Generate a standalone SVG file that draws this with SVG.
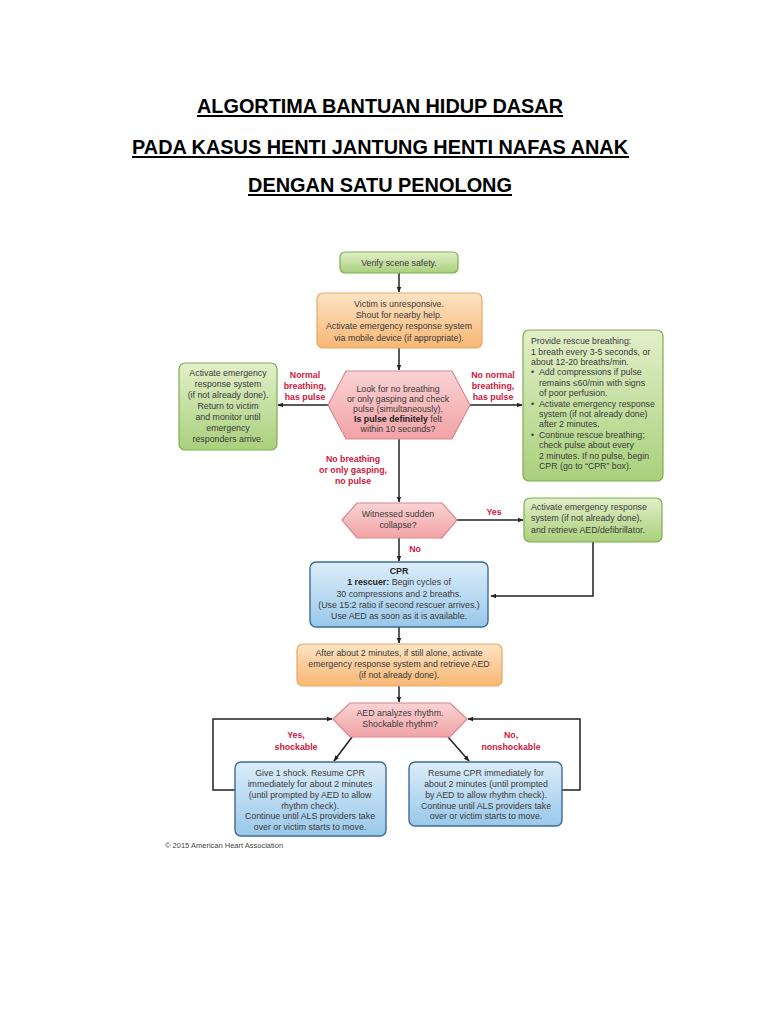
<svg xmlns="http://www.w3.org/2000/svg" width="768" height="1024" viewBox="0 0 768 1024">
<defs>
<linearGradient id="gGreen" x1="0" y1="0" x2="0" y2="1"><stop offset="0" stop-color="#e2efc9"/><stop offset="1" stop-color="#a9d07c"/></linearGradient>
<linearGradient id="gOrange" x1="0" y1="0" x2="0" y2="1"><stop offset="0" stop-color="#fde3c4"/><stop offset="1" stop-color="#f7b774"/></linearGradient>
<linearGradient id="gPink" x1="0" y1="0" x2="0" y2="1"><stop offset="0" stop-color="#fad3d4"/><stop offset="1" stop-color="#f1a3a6"/></linearGradient>
<linearGradient id="gBlue" x1="0" y1="0" x2="0" y2="1"><stop offset="0" stop-color="#dcedf9"/><stop offset="1" stop-color="#99c8ea"/></linearGradient>
<marker id="arr" viewBox="0 0 10 10" refX="9" refY="5" markerWidth="6" markerHeight="6" orient="auto" markerUnits="userSpaceOnUse"><path d="M0,1 L10,5 L0,9 z" fill="#222"/></marker>
<style>
.title{font-family:"Liberation Sans",Arial,sans-serif;font-weight:bold;font-size:21px;fill:#000;text-anchor:middle}
.ul{stroke:#000;stroke-width:2}
.t{font-family:"Liberation Sans",Arial,sans-serif;font-size:8.8px;fill:#3a3a3a;text-anchor:middle}
.tl{font-family:"Liberation Sans",Arial,sans-serif;font-size:8.8px;fill:#3a3a3a}
.b{font-weight:bold;fill:#222}
.lab{font-family:"Liberation Sans",Arial,sans-serif;font-size:8.8px;font-weight:bold;fill:#d0173e;text-anchor:middle}
.green{fill:url(#gGreen);stroke:#7dae4f;stroke-width:1.2}
.orange{fill:url(#gOrange);stroke:#e8a868;stroke-width:1.2}
.pink{fill:url(#gPink);stroke:#d9888c;stroke-width:1.2}
.blue{fill:url(#gBlue);stroke:#3f6a96;stroke-width:1.4}
.c{fill:none;stroke:#222;stroke-width:1.5}
.ca{fill:none;stroke:#222;stroke-width:1.5;marker-end:url(#arr)}
.copy{font-family:"Liberation Sans",Arial,sans-serif;font-size:7.5px;fill:#444}
</style>
</defs>
<rect width="768" height="1024" fill="#fff"/>

<g id="title">
<text class="title" x="380" y="113" textLength="366" lengthAdjust="spacingAndGlyphs">ALGORTIMA BANTUAN HIDUP DASAR</text>
<line class="ul" x1="197" y1="116" x2="563" y2="116"/>
<text class="title" x="380" y="154" textLength="496" lengthAdjust="spacingAndGlyphs">PADA KASUS HENTI JANTUNG HENTI NAFAS ANAK</text>
<line class="ul" x1="132" y1="157" x2="629" y2="157"/>
<text class="title" x="380" y="192" textLength="264" lengthAdjust="spacingAndGlyphs">DENGAN SATU PENOLONG</text>
<line class="ul" x1="248" y1="195" x2="512" y2="195"/>
</g>

<g id="connectors">
<line class="ca" x1="399" y1="273" x2="399" y2="292"/>
<line class="ca" x1="399" y1="348" x2="399" y2="370"/>
<line class="ca" x1="328" y1="405" x2="278" y2="405"/>
<line class="ca" x1="470" y1="405" x2="522" y2="405"/>
<line class="ca" x1="399" y1="439" x2="399" y2="502"/>
<line class="ca" x1="457" y1="520" x2="523" y2="520"/>
<line class="ca" x1="399" y1="538" x2="399" y2="561"/>
<polyline class="ca" points="593,542 593,596 491,596"/>
<line class="ca" x1="399" y1="627" x2="399" y2="643"/>
<line class="ca" x1="399" y1="686" x2="399" y2="702"/>
<polyline class="ca" points="235,790 213,790 213,719 332,719"/>
<polyline class="ca" points="562,790 580,790 580,719 468,719"/>
<line class="ca" x1="352" y1="737" x2="334" y2="761"/>
<line class="ca" x1="448" y1="737" x2="469" y2="761"/>
</g>

<g id="labels">
<text class="lab" x="305" y="378">Normal</text>
<text class="lab" x="305" y="389">breathing,</text>
<text class="lab" x="305" y="400">has pulse</text>
<text class="lab" x="493" y="378">No normal</text>
<text class="lab" x="493" y="389">breathing,</text>
<text class="lab" x="493" y="400">has pulse</text>
<text class="lab" x="353" y="462">No breathing</text>
<text class="lab" x="353" y="473">or only gasping,</text>
<text class="lab" x="353" y="484">no pulse</text>
<text class="lab" x="494" y="515">Yes</text>
<text class="lab" x="415" y="552">No</text>
<text class="lab" x="296" y="738">Yes,</text>
<text class="lab" x="296" y="750">shockable</text>
<text class="lab" x="511" y="738">No,</text>
<text class="lab" x="511" y="750">nonshockable</text>
</g>

<g id="verify">
<rect class="green" x="340" y="252" width="118" height="21" rx="5"/>
<text class="t" x="399" y="266">Verify scene safety.</text>
</g>

<g id="unresponsive">
<rect class="orange" x="317" y="293" width="165" height="55" rx="6"/>
<text class="t" x="399" y="307">Victim is unresponsive.</text>
<text class="t" x="399" y="318">Shout for nearby help.</text>
<text class="t" x="399" y="329">Activate emergency response system</text>
<text class="t" x="399" y="341">via mobile device (if appropriate).</text>
</g>

<g id="check">
<polygon class="pink" points="328,405 346,371 452,371 470,405 452,439 346,439"/>
<text class="t" x="398" y="392">Look for no breathing</text>
<text class="t" x="398" y="402">or only gasping and check</text>
<text class="t" x="398" y="412">pulse (simultaneously).</text>
<text class="t" x="398" y="422"><tspan class="b">Is pulse definitely</tspan> felt</text>
<text class="t" x="398" y="432">within 10 seconds?</text>
</g>

<g id="normalbox">
<rect class="green" x="179" y="363" width="98" height="87" rx="6"/>
<text class="t" x="228" y="376">Activate emergency</text>
<text class="t" x="228" y="387">response system</text>
<text class="t" x="228" y="398">(if not already done).</text>
<text class="t" x="228" y="409">Return to victim</text>
<text class="t" x="228" y="420">and monitor until</text>
<text class="t" x="228" y="431">emergency</text>
<text class="t" x="228" y="442">responders arrive.</text>
</g>

<g id="rescuebreathing">
<rect class="green" x="523" y="330" width="140" height="151" rx="6"/>
<text class="tl" x="531" y="344">Provide rescue breathing:</text>
<text class="tl" x="531" y="355">1 breath every 3-5 seconds, or</text>
<text class="tl" x="531" y="365">about 12-20 breaths/min.</text>
<text class="tl" x="531" y="375">•</text><text class="tl" x="539" y="375">Add compressions if pulse</text>
<text class="tl" x="539" y="386">remains ≤60/min with signs</text>
<text class="tl" x="539" y="396">of poor perfusion.</text>
<text class="tl" x="531" y="407">•</text><text class="tl" x="539" y="407">Activate emergency response</text>
<text class="tl" x="539" y="417">system (if not already done)</text>
<text class="tl" x="539" y="427">after 2 minutes.</text>
<text class="tl" x="531" y="438">•</text><text class="tl" x="539" y="438">Continue rescue breathing;</text>
<text class="tl" x="539" y="448">check pulse about every</text>
<text class="tl" x="539" y="459">2 minutes. If no pulse, begin</text>
<text class="tl" x="539" y="469">CPR (go to “CPR” box).</text>
</g>

<g id="witnessed">
<polygon class="pink" points="342,520 357,503 442,503 457,520 442,538 357,538"/>
<text class="t" x="398" y="517">Witnessed sudden</text>
<text class="t" x="398" y="528">collapse?</text>
</g>

<g id="activateaed">
<rect class="green" x="524" y="498" width="138" height="44" rx="6"/>
<text class="tl" x="531" y="510">Activate emergency response</text>
<text class="tl" x="531" y="521">system (if not already done),</text>
<text class="tl" x="531" y="533">and retrieve AED/defibrillator.</text>
</g>

<g id="cpr">
<rect class="blue" x="310" y="562" width="178" height="65" rx="6"/>
<text class="t b" x="399" y="574">CPR</text>
<text class="t" x="399" y="585"><tspan class="b">1 rescuer:</tspan> Begin cycles of</text>
<text class="t" x="399" y="597">30 compressions and 2 breaths.</text>
<text class="t" x="399" y="608">(Use 15:2 ratio if second rescuer arrives.)</text>
<text class="t" x="399" y="619">Use AED as soon as it is available.</text>
</g>

<g id="after2min">
<rect class="orange" x="297" y="644" width="205" height="42" rx="6"/>
<text class="t" x="399" y="656">After about 2 minutes, if still alone, activate</text>
<text class="t" x="399" y="667">emergency response system and retrieve AED</text>
<text class="t" x="399" y="678">(if not already done).</text>
</g>

<g id="aed">
<polygon class="pink" points="333,719 350,703 450,703 467,719 450,737 350,737"/>
<text class="t" x="400" y="716">AED analyzes rhythm.</text>
<text class="t" x="400" y="727">Shockable rhythm?</text>
</g>

<g id="shock">
<rect class="blue" x="235" y="762" width="151" height="74" rx="6"/>
<text class="t" x="310" y="776">Give 1 shock. Resume CPR</text>
<text class="t" x="310" y="787">immediately for about 2 minutes</text>
<text class="t" x="310" y="798">(until prompted by AED to allow</text>
<text class="t" x="310" y="809">rhythm check).</text>
<text class="t" x="310" y="819">Continue until ALS providers take</text>
<text class="t" x="310" y="830">over or victim starts to move.</text>
</g>

<g id="noshock">
<rect class="blue" x="409" y="762" width="153" height="64" rx="6"/>
<text class="t" x="486" y="776">Resume CPR immediately for</text>
<text class="t" x="486" y="787">about 2 minutes (until prompted</text>
<text class="t" x="486" y="798">by AED to allow rhythm check).</text>
<text class="t" x="486" y="809">Continue until ALS providers take</text>
<text class="t" x="486" y="819">over or victim starts to move.</text>
</g>

<text class="copy" x="165" y="848">© 2015 American Heart Association</text>
</svg>
